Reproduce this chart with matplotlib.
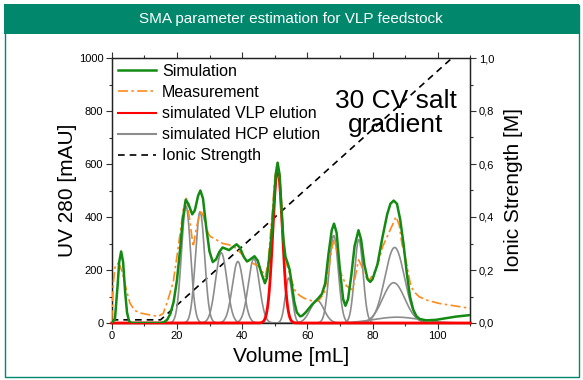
import numpy as np
import matplotlib
matplotlib.use("Agg")
import matplotlib.pyplot as plt
from matplotlib.patches import Rectangle
from matplotlib.lines import Line2D
from matplotlib.ticker import MultipleLocator, FuncFormatter

plt.rcParams['font.family'] = ['Liberation Sans', 'DejaVu Sans']

# ---------------- data ----------------
title = "SMA parameter estimation for VLP feedstock"

sim_vol = [0, 1.0, 1.8, 2.3, 2.9, 3.5, 4.1, 4.7, 5.3, 6.0, 10, 15.0, 16.0, 17.0, 18.0, 19.0,
           20.0, 21.0, 21.8, 22.7, 23.5, 24.7, 25.5, 26.5, 27.2, 28.0, 29.0, 30.0, 31.0,
           32.0, 33.0, 34.0, 35.0, 36.0, 37.0, 38.3, 39.3, 40.5, 41.5, 42.5, 43.8, 44.8,
           46.0, 47.0, 47.6, 48.3, 49.0, 49.6, 50.3, 50.9, 51.5, 52.1, 52.7, 53.3, 54.0,
           54.6, 55.3, 56.0, 56.8, 57.8, 58.5, 59.5, 60.5, 61.5, 62.5, 63.5, 64.5, 65.5,
           66.5, 67.5, 68.2, 69.0, 70.0, 71.0, 71.7, 72.5, 73.5, 74.5, 75.7, 76.5, 77.5,
           78.5, 79.3, 80.0, 81.5, 83.0, 84.5, 85.5, 86.5, 87.5, 88.5, 89.5, 90.5, 91.5,
           92.5, 93.5, 94.5, 96.5, 99.5, 102.5, 105.5, 110]
sim_val = [0, 15, 140, 230, 270, 230, 120, 40, 8, 0, 0, 0, 3, 12, 35, 80,
           160, 280, 390, 465, 450, 410, 425, 480, 500, 470, 360, 270, 230,
           240, 268, 285, 280, 275, 285, 297, 285, 250, 232, 240, 252, 235,
           185, 150, 170, 245, 330, 430, 560, 605, 560, 430, 310, 250, 225,
           200, 140, 80, 40, 25, 28, 40, 55, 70, 82, 95, 110, 150,
           260, 350, 375, 340, 200, 90, 65, 90, 180, 290, 350, 315, 220,
           165, 155, 165, 220, 320, 410, 450, 462, 450, 390, 300, 190, 100,
           50, 25, 15, 10, 12, 18, 24, 30]

meas_vol = [0, 0.5, 1.0, 1.8, 2.6, 3.6, 4.6, 5.6, 7.0, 8.7, 11, 14.3, 15.8, 16.8, 17.8, 18.9,
            20.0, 21.0, 22.0, 22.9, 23.8, 25.0, 26.0, 27.3, 28.2, 29.6, 30.3, 32.0, 34.1,
            36.0, 38.2, 40.0, 41.3, 44.3, 45.5, 47.1, 48.0, 49.0, 50.0, 50.8, 51.5, 52.4,
            53.5, 54.5, 56.1, 57.5, 59.1, 62.2, 63.5, 65.2, 66.5, 67.5, 68.2, 69.2, 70.3,
            72.0, 73.9, 74.8, 75.7, 76.5, 77.5, 79.0, 80.5, 82.0, 83.1, 85.0, 86.5, 87.2,
            88.2, 89.0, 90.2, 91.8, 93.0, 94.3, 97.0, 100.4, 105.0, 110.0]
meas_val = [10, 150, 210, 225, 215, 175, 120, 75, 48, 38, 32, 25, 36, 70, 110, 156,
            250, 340, 430, 470, 400, 288, 360, 426, 400, 338, 326, 315, 300,
            295, 282, 258, 238, 219, 210, 175, 230, 380, 540, 605, 540, 340,
            230, 190, 125, 105, 93, 80, 85, 112, 200, 280, 316, 270, 187,
            140, 125, 180, 238, 220, 180, 162, 190, 235, 288, 340, 380, 401,
            370, 300, 238, 137, 115, 99, 85, 74, 65, 55]

# simulated component elution peaks (centre [mL], height [mAU], width [mL])
vlp_center, vlp_height, vlp_width = 50.9, 580, 1.45
hcp_centers = [22.8, 27.1, 33.6, 38.7, 43.6, 54.3, 63.0, 68.1, 75.8, 86.8, 86.5, 87.5]
hcp_heights = [440, 420, 265, 232, 242, 170, 85, 330, 315, 285, 152, 22]
hcp_widths = [1.4, 1.4, 1.75, 1.7, 1.7, 1.05, 2.1, 1.4, 1.3, 3.0, 3.4, 7.0]

ionic_vol = [0, 15, 104.4]
ionic_val = [0.012, 0.012, 1.0]

x_ticks = [0, 20, 40, 60, 80, 100]
y_ticks = [0, 200, 400, 600, 800, 1000]
y2_ticks = [0.0, 0.2, 0.4, 0.6, 0.8, 1.0]

legend_labels = ["Simulation", "Measurement", "simulated VLP elution",
                 "simulated HCP elution", "Ionic Strength"]
annot = "30 CV salt\ngradient"

# ---------------- figure ----------------
W, H = 583, 380
fig = plt.figure(figsize=(W / 100, H / 100), dpi=100)


def fx(px):
    return px / W


def fy(py):
    return 1 - py / H


teal = '#00876C'
fig.patches.append(Rectangle((fx(4.5), fy(377)), (578.5 - 4.5) / W, (377 - 4.5) / H,
                             transform=fig.transFigure, fill=False,
                             edgecolor=teal, lw=1.0))
fig.patches.append(Rectangle((fx(4), fy(34)), (579 - 4) / W, 30 / H,
                             transform=fig.transFigure, facecolor=teal,
                             edgecolor='none'))
fig.text(fx(291), fy(19), title, color='white', fontsize=11, ha='center', va='center')

ax = fig.add_axes([fx(111.7), fy(323), (470.3 - 111.7) / W, (323 - 58) / H])
ax2 = ax.twinx()

v = np.linspace(0, 110, 2201)
green = '#138A12'
orange = '#FF8A1C'
gray = '#8C8C8C'

for c, h, s in zip(hcp_centers, hcp_heights, hcp_widths):
    ax.plot(v, h * np.exp(-0.5 * ((v - c) / s) ** 2), color=gray, lw=1.2, zorder=2)
ax.plot(v, vlp_height * np.exp(-0.5 * ((v - vlp_center) / vlp_width) ** 2),
        color='#FF0000', lw=2.0, zorder=3, clip_on=False)
ax.plot(meas_vol, meas_val, color=orange, lw=1.2, ls=(0, (6, 2, 1.5, 2)), zorder=4)
ax.plot(sim_vol, sim_val, color=green, lw=1.8, zorder=5)

ax2.plot(ionic_vol, ionic_val, color='black', lw=1.2, ls=(0, (4, 3)))

ax.set_xlim(0, 110)
ax.set_ylim(0, 1000)
ax2.set_ylim(0, 1.0)
ax.set_zorder(ax2.get_zorder() + 1)
ax.patch.set_visible(False)

ax.set_xticks(x_ticks)
ax.set_yticks(y_ticks)
ax2.set_yticks(y2_ticks)
ax.xaxis.set_minor_locator(MultipleLocator(10))
ax.yaxis.set_minor_locator(MultipleLocator(100))
ax2.yaxis.set_minor_locator(MultipleLocator(0.1))
ax2.yaxis.set_major_formatter(FuncFormatter(lambda y, p: f"{y:.1f}".replace('.', ',')))

ax.tick_params(axis='both', which='major', direction='out', length=4, width=0.8,
               labelsize=8, pad=2, color='#333333')
ax.tick_params(axis='both', which='minor', direction='out', length=2.5, width=0.8,
               color='#333333')
ax.tick_params(axis='x', top=True, which='both')
ax2.tick_params(axis='y', which='major', direction='out', length=4, width=0.8,
                labelsize=8, pad=2, color='#333333')
ax2.tick_params(axis='y', which='minor', direction='out', length=2.5, width=0.8,
                color='#333333')
for a in (ax, ax2):
    for sp in a.spines.values():
        sp.set_linewidth(0.9)
        sp.set_color('#222222')

ax.set_xlabel("Volume [mL]", fontsize=15, labelpad=4)
ax.set_ylabel("UV 280 [mAU]", fontsize=15, labelpad=1)
ax2.set_ylabel("Ionic Strength [M]", fontsize=15, labelpad=7)

handles = [Line2D([], [], color=green, lw=1.8),
           Line2D([], [], color=orange, lw=1.2, ls=(0, (6, 2, 1.5, 2))),
           Line2D([], [], color='#FF0000', lw=1.5),
           Line2D([], [], color=gray, lw=1.5),
           Line2D([], [], color='black', lw=1.2, ls=(0, (4, 3)))]
ax.legend(handles, legend_labels, loc='upper left', frameon=False, fontsize=11.5,
          bbox_to_anchor=(fx(118), fy(64)), bbox_transform=fig.transFigure,
          borderaxespad=0, borderpad=0, handlelength=2.4, handletextpad=0.35,
          labelspacing=0.38)

fig.text(fx(396), fy(113), annot, fontsize=19, ha='center', va='center',
         linespacing=1.05)

fig.savefig("out.png", dpi=100)
